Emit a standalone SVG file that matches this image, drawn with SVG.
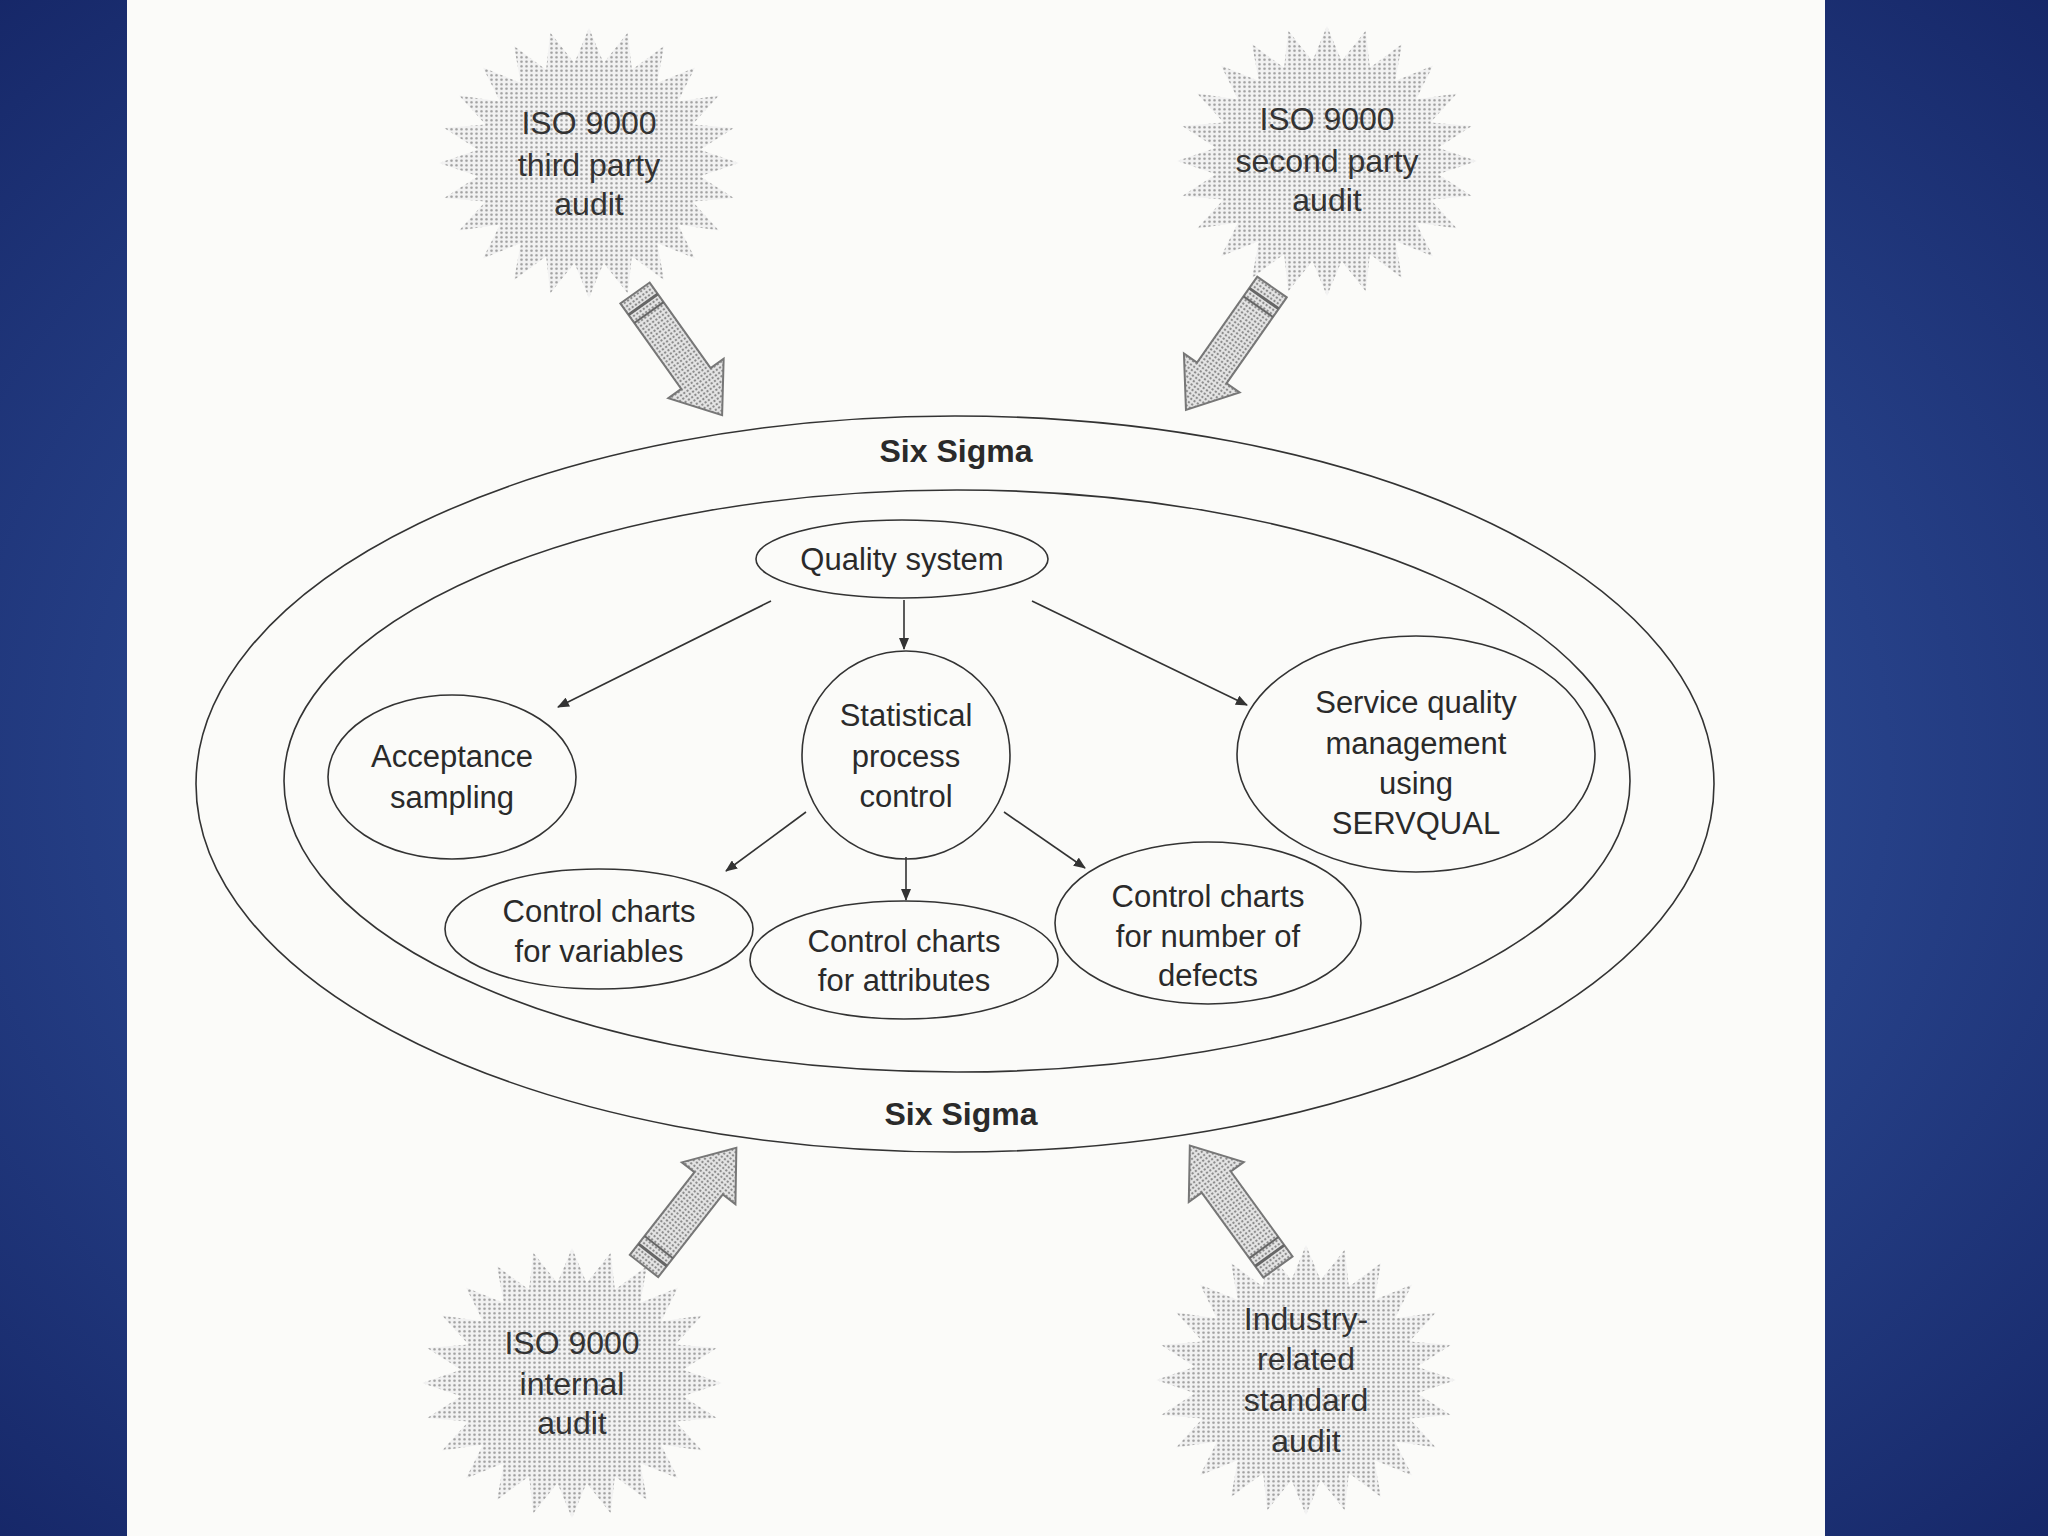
<svg xmlns="http://www.w3.org/2000/svg" width="2048" height="1536" viewBox="0 0 2048 1536">
<defs>
<radialGradient id="bg" cx="50%" cy="50%" r="75%">
<stop offset="0" stop-color="#3d64b4"/><stop offset="1" stop-color="#142464"/>
</radialGradient>
<pattern id="dots" width="5" height="5" patternUnits="userSpaceOnUse">
<rect width="5" height="5" fill="#f2f2f2"/><circle cx="2.5" cy="2.5" r="1.3" fill="#9a9a9a"/>
</pattern>
<pattern id="dots2" width="4" height="4" patternUnits="userSpaceOnUse">
<rect width="4" height="4" fill="#e6e6e6"/><circle cx="2" cy="2" r="1.2" fill="#8a8a8a"/>
</pattern>
<path id="star" d="M150,0 L111,14.6 144.9,38.8 103.5,42.9 129.9,75 88.9,68.2 106.1,106.1 68.2,88.9 75,129.9 42.9,103.5 38.8,144.9 14.6,111 0,150 -14.6,111 -38.8,144.9 -42.9,103.5 -75,129.9 -68.2,88.9 -106.1,106.1 -88.9,68.2 -129.9,75 -103.5,42.9 -144.9,38.8 -111,14.6 -150,0 -111,-14.6 -144.9,-38.8 -103.5,-42.9 -129.9,-75 -88.9,-68.2 -106.1,-106.1 -68.2,-88.9 -75,-129.9 -42.9,-103.5 -38.8,-144.9 -14.6,-111 0,-150 14.6,-111 38.8,-144.9 42.9,-103.5 75,-129.9 68.2,-88.9 106.1,-106.1 88.9,-68.2 129.9,-75 103.5,-42.9 144.9,-38.8 111,-14.6Z"/>
<g id="bigarrow">
<polygon points="0,-18 105,-18 105,-34 150,0 105,34 105,18 0,18" fill="url(#dots2)" stroke="#777" stroke-width="2"/>
<line x1="14" y1="-18" x2="14" y2="18" stroke="#666" stroke-width="3"/>
<line x1="24" y1="-18" x2="24" y2="18" stroke="#666" stroke-width="2"/>
</g>
<marker id="ah" markerWidth="12" markerHeight="10" refX="11" refY="5" orient="auto" markerUnits="userSpaceOnUse">
<path d="M0,0 L12,5 L0,10 Z" fill="#333"/>
</marker>
</defs>
<style>
.nd{fill:none;stroke:#333;stroke-width:1.6}
.t{font-family:"Liberation Sans",Arial,sans-serif;font-size:31px;fill:#2a2a2a;text-anchor:middle}
.st{font-family:"Liberation Sans",Arial,sans-serif;font-size:32px;fill:#333;text-anchor:middle}
.b{font-family:"Liberation Sans",Arial,sans-serif;font-size:32px;font-weight:bold;fill:#2a2a2a;text-anchor:middle}
.c{stroke:#333;stroke-width:1.6;fill:none;marker-end:url(#ah)}
</style>
<rect width="2048" height="1536" fill="url(#bg)"/>
<rect x="127" y="0" width="1698" height="1536" fill="#fbfbf9"/>

<g id="sixsigma">
<ellipse cx="955" cy="784" rx="759" ry="368" class="nd"/>
<ellipse cx="957" cy="781" rx="673" ry="291" class="nd"/>
<text x="956" y="462" class="b">Six Sigma</text>
<text x="961" y="1125" class="b">Six Sigma</text>
</g>

<g id="n_third"><use href="#star" transform="translate(589,163) scale(1,0.9)" fill="url(#dots)"/>
<text class="st" x="589" y="134">ISO 9000</text><text class="st" x="589" y="176">third party</text><text class="st" x="589" y="215">audit</text></g>
<g id="n_second"><use href="#star" transform="translate(1327,161) scale(1,0.9)" fill="url(#dots)"/>
<text class="st" x="1327" y="130">ISO 9000</text><text class="st" x="1327" y="172">second party</text><text class="st" x="1327" y="211">audit</text></g>
<g id="n_internal"><use href="#star" transform="translate(572,1383) scale(1,0.9)" fill="url(#dots)"/>
<text class="st" x="572" y="1354">ISO 9000</text><text class="st" x="572" y="1395">internal</text><text class="st" x="572" y="1434">audit</text></g>
<g id="n_industry"><use href="#star" transform="translate(1306,1380) scale(1,0.9)" fill="url(#dots)"/>
<text class="st" x="1306" y="1330">Industry-</text><text class="st" x="1306" y="1370">related</text><text class="st" x="1306" y="1411">standard</text><text class="st" x="1306" y="1452">audit</text></g>

<g id="n_qs"><ellipse cx="902" cy="559" rx="146" ry="39" class="nd"/><text class="t" x="902" y="570">Quality system</text></g>
<g id="n_spc"><circle cx="906" cy="755" r="104" class="nd"/>
<text class="t" x="906" y="726">Statistical</text><text class="t" x="906" y="767">process</text><text class="t" x="906" y="807">control</text></g>
<g id="n_acc"><ellipse cx="452" cy="777" rx="124" ry="82" class="nd"/>
<text class="t" x="452" y="767">Acceptance</text><text class="t" x="452" y="808">sampling</text></g>
<g id="n_serv"><ellipse cx="1416" cy="754" rx="179" ry="118" class="nd"/>
<text class="t" x="1416" y="713">Service quality</text><text class="t" x="1416" y="754">management</text><text class="t" x="1416" y="794">using</text><text class="t" x="1416" y="834">SERVQUAL</text></g>
<g id="n_var"><ellipse cx="599" cy="929" rx="154" ry="60" class="nd"/>
<text class="t" x="599" y="922">Control charts</text><text class="t" x="599" y="962">for variables</text></g>
<g id="n_att"><ellipse cx="904" cy="960" rx="154" ry="59" class="nd"/>
<text class="t" x="904" y="952">Control charts</text><text class="t" x="904" y="991">for attributes</text></g>
<g id="n_def"><ellipse cx="1208" cy="923" rx="153" ry="81" class="nd"/>
<text class="t" x="1208" y="907">Control charts</text><text class="t" x="1208" y="947">for number of</text><text class="t" x="1208" y="986">defects</text></g>

<g id="connectors">
<line class="c" x1="904" y1="600" x2="904" y2="649"/>
<line class="c" x1="771" y1="601" x2="558" y2="707"/>
<line class="c" x1="1032" y1="601" x2="1247" y2="705"/>
<line class="c" x1="806" y1="812" x2="726" y2="871"/>
<line class="c" x1="906" y1="857" x2="906" y2="900"/>
<line class="c" x1="1004" y1="812" x2="1085" y2="868"/>
<use href="#bigarrow" transform="translate(635,293) rotate(54.5)"/>
<use href="#bigarrow" transform="translate(1272,287) rotate(125)"/>
<use href="#bigarrow" transform="translate(644,1266) rotate(-52)"/>
<use href="#bigarrow" transform="translate(1278,1267) rotate(-126)"/>
</g>
</svg>
